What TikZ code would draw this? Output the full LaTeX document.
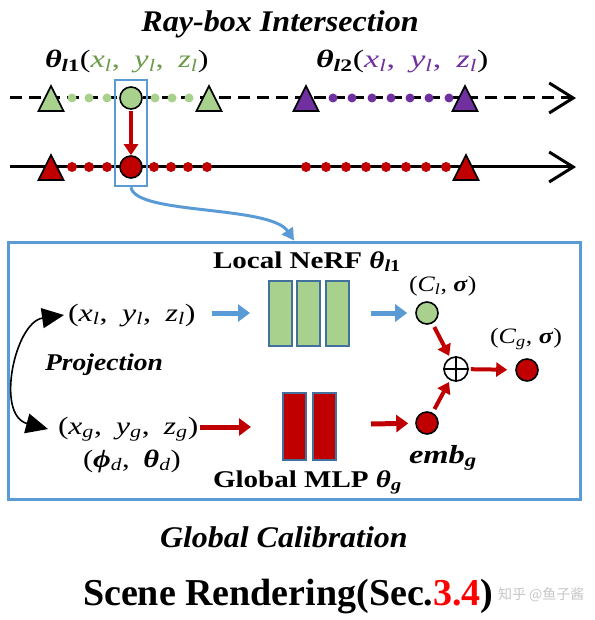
\documentclass[tikz,border=0pt]{standalone}
\usepackage{fontspec}
\setmainfont{Liberation Serif}
\newfontfamily\cjkfont{Noto Sans CJK SC}
\usetikzlibrary{arrows.meta}
\definecolor{lgreen}{HTML}{A9D18E}
\definecolor{tgreen}{HTML}{6A9A4A}
\definecolor{mypurple}{HTML}{7030A0}
\definecolor{myred}{HTML}{C00000}
\definecolor{myblue}{HTML}{5B9BD5}
\definecolor{barline}{HTML}{41719C}
\newcommand{\vsub}[2]{\textit{#1}\textsubscript{\textit{#2}}}
\newcommand{\cm}{,\hspace{0.45em}}
\newcommand{\tri}[3]{\draw[line width=1.6pt, line join=miter, fill=#3] ({#1-12.5},{#2+13}) -- (#1,{#2-12}) -- ({#1+12.5},{#2+13}) -- cycle;}
\begin{document}
\begin{tikzpicture}[x=1pt,y=-1pt,
  txt/.style={inner sep=0pt, outer sep=0pt},
  bigdot/.style={circle, draw=black, line width=1.6pt, minimum size=22pt, inner sep=0pt},
  sdot/.style={circle, inner sep=0pt, minimum size=9pt},
  rdot/.style={circle, inner sep=0pt, minimum size=10pt, fill=myred},
  ray/.style={line width=3pt, -{Straight Barb[length=24pt,width=30pt,line width=3pt]}},
  bar/.style={draw=barline, line width=2pt, inner sep=0pt, anchor=north west},
  bluearr/.style={myblue, line width=5pt, -{Triangle[length=12pt,width=17pt]}},
  redarr/.style={myred, line width=5pt, -{Triangle[length=12pt,width=17pt]}},
  redarrs/.style={myred, line width=4pt, -{Triangle[length=11pt,width=14pt]}},
]
\useasboundingbox (0,0) rectangle (594,620);

% ---- titles ----
\node[txt, anchor=base, font=\bfseries\itshape\fontsize{30}{30}\selectfont] (title) at (280,32) {\scalebox{1.07}[1]{Ray-box Intersection}};
\node[txt, anchor=base west, font=\fontsize{25}{25}\selectfont] (lab1) at (45,68)
  {\scalebox{1.29}[1]{\textbf{\textit{θ}\textsubscript{\textit{l}1}}(\textcolor{tgreen}{\vsub{x}{l}\cm\vsub{y}{l}\cm\vsub{z}{l}})}};
\node[txt, anchor=base west, font=\fontsize{25}{25}\selectfont] (lab2) at (316,68)
  {\scalebox{1.36}[1]{\textbf{\textit{θ}\textsubscript{\textit{l}2}}(\textcolor{mypurple}{\vsub{x}{l}\cm\vsub{y}{l}\cm\vsub{z}{l}})}};

% ---- rays ----
\coordinate (d0) at (10,98);
\coordinate (d1) at (576,98);
\coordinate (s0) at (10,167);
\coordinate (s1) at (576,167);
\draw[ray, dash pattern=on 12pt off 7pt] (d0) -- (d1);
\draw[ray] (s0) -- (s1);

\foreach \x in {72,89,107,155,172,189} \node[sdot, fill=lgreen] (gd\x) at (\x,98) {};
\foreach \x in {333,352,372,391,410,429,449} \node[sdot, fill=mypurple] (pd\x) at (\x,98) {};
\foreach \x in {72,89,107,154,171,188,207,306,326,346,366,386,406,426,446} \node[rdot] (rd\x) at (\x,167) {};

\tri{51}{98}{lgreen}
\tri{209}{98}{lgreen}
\tri{306}{98}{mypurple}
\tri{465}{98}{mypurple}
\tri{51}{167}{myred}
\tri{466}{167}{myred}

\node[bigdot, fill=lgreen] (gbig) at (131,98) {};
\node[bigdot, fill=myred] (rbig) at (131,167) {};
\draw[redarrs, shorten <=1pt] (gbig) -- (rbig);
\node[draw=myblue, line width=2.5pt, minimum width=32pt, minimum height=106pt, inner sep=0pt] (sel) at (131,133) {};

% ---- calibration box ----
\node[draw=myblue, line width=3pt, minimum width=572pt, minimum height=257pt, inner sep=0pt] (calib) at (294,370.5) {};
\draw[myblue, line width=3pt, -{Triangle[length=12pt,width=13pt]}] (sel.south) .. controls (135,215) and (270,205) .. (calib.north);

\node[txt, anchor=base west, font=\fontsize{25}{25}\selectfont] (xl) at (68,321) {\scalebox{1.28}[1]{(\vsub{x}{l}\cm\vsub{y}{l}\cm\vsub{z}{l})}};
\node[txt, anchor=base west, font=\fontsize{25}{25}\selectfont] (xg) at (58,434) {\scalebox{1.26}[1]{(\vsub{x}{g}\cm\vsub{y}{g}\cm\vsub{z}{g})}};
\node[txt, anchor=base west, font=\fontsize{25}{25}\selectfont] (pd) at (83,467) {\scalebox{1.22}[1]{(\textbf{\textit{ϕ}}\textsubscript{\textit{d}}\cm\textbf{\textit{θ}}\textsubscript{\textit{d}})}};
\node[txt, anchor=base west, font=\bfseries\itshape\fontsize{24}{24}\selectfont] (proj) at (45,370) {\scalebox{1.15}[1]{Projection}};

\node[txt, anchor=base west, font=\bfseries\fontsize{24}{24}\selectfont] (lnerf) at (213,268) {\scalebox{1.21}[1]{Local NeRF \textit{θ}\textsubscript{\textit{l}1}}};
\node[txt, anchor=base west, font=\bfseries\fontsize{24}{24}\selectfont] (gmlp) at (213,487) {\scalebox{1.21}[1]{Global MLP \textit{θ}\textsubscript{\textit{g}}}};

\node[bar, fill=lgreen, minimum width=23pt, minimum height=65pt] (g1) at (268,280) {};
\node[bar, fill=lgreen, minimum width=23pt, minimum height=65pt] (g2) at (296,280) {};
\node[bar, fill=lgreen, minimum width=23pt, minimum height=65pt] (g3) at (325,280) {};
\node[bar, fill=myred, minimum width=23pt, minimum height=67pt] (r1) at (282,392) {};
\node[bar, fill=myred, minimum width=23pt, minimum height=67pt] (r2) at (312,392) {};

\node[bigdot, fill=lgreen] (cl) at (427,313) {};
\node[bigdot, fill=myred] (emb) at (427,423) {};
\node[bigdot, fill=myred] (out) at (527,370) {};
\node[circle, draw=black, line width=1.6pt, minimum size=24pt, inner sep=0pt] (plus) at (456,369) {};
\draw[line width=1.6pt] (plus.north) -- (plus.south) (plus.west) -- (plus.east);

\node[txt, anchor=base west, font=\fontsize{22}{22}\selectfont] (cll) at (409,291) {\scalebox{1.17}[1]{(\vsub{C}{l}, \textbf{\textit{σ}})}};
\node[txt, anchor=base west, font=\fontsize{22}{22}\selectfont] (cgl) at (490,343) {\scalebox{1.18}[1]{(\vsub{C}{g}, \textbf{\textit{σ}})}};
\node[txt, anchor=base west, font=\bfseries\itshape\fontsize{26}{26}\selectfont] (embl) at (409,463) {\scalebox{1.25}[1]{emb\textsubscript{g}}};

\coordinate (b1s) at (212,313);
\coordinate (b2s) at (371,313);
\coordinate (r1s) at (200,427);
\coordinate (r2s) at (371,424);
\draw[bluearr, shorten >=18pt] (b1s) -- (g1.west |- b1s);
\draw[bluearr, shorten >=8pt] (b2s) -- (cl);
\draw[redarr, shorten >=31pt] (r1s) -- (r1.west |- r1s);
\draw[redarr, shorten >=7pt] (r2s) -- (emb);
\draw[redarrs, shorten <=4pt, shorten >=2pt] (cl) -- (plus);
\draw[redarrs, shorten <=4pt, shorten >=2pt] (emb) -- (plus);
\draw[redarrs, shorten <=2pt, shorten >=8pt] (plus) -- (out);

\draw[line width=1.6pt, {Triangle[length=22pt,width=20pt]}-{Triangle[length=22pt,width=20pt]}]
  ([xshift=-4pt]xl.west) .. controls (15,322) and (-5,415) .. ([xshift=-10pt]xg.west);

% ---- bottom ----
\node[txt, anchor=base west, font=\bfseries\itshape\fontsize{30}{30}\selectfont] (gcal) at (160,547) {\scalebox{1.065}[1]{Global Calibration}};
\node[txt, anchor=base west, font=\bfseries\fontsize{38}{38}\selectfont] (scene) at (83,605) {Scene Rendering(Sec.\textcolor{red}{3.4})};
\node[txt, anchor=base west, text=gray!45, font=\cjkfont\fontsize{14}{14}\selectfont] (wm) at (498,599) {知乎 @鱼子酱};
\end{tikzpicture}
\end{document}
